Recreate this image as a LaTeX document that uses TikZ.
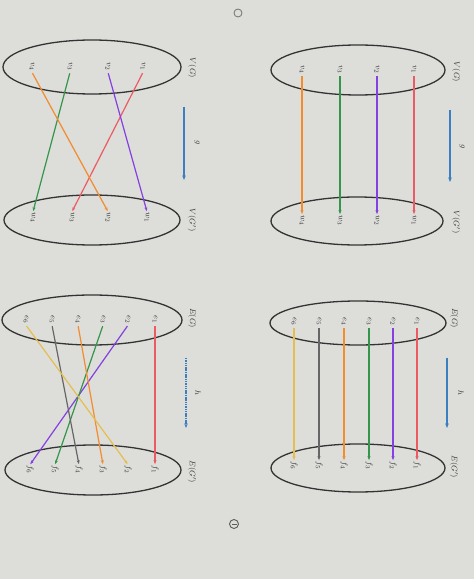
\documentclass[tikz,border=0pt]{standalone}
\usetikzlibrary{arrows.meta}
\definecolor{paper}{HTML}{DDDDDA}
\definecolor{cred}{HTML}{EC5A62}
\definecolor{cpur}{HTML}{8440E0}
\definecolor{cgrn}{HTML}{33964A}
\definecolor{cora}{HTML}{F28C2C}
\definecolor{cgry}{HTML}{666666}
\definecolor{cyel}{HTML}{E6BE50}
\definecolor{cblu}{HTML}{3A7FC0}
\definecolor{cink}{HTML}{333333}
\begin{document}
\begin{tikzpicture}[x=1pt,y=1pt,
  lbl/.style={rotate=-90,inner sep=1pt,font=\fontsize{8}{9}\selectfont,text=cink},
  setlbl/.style={rotate=-90,inner sep=1pt,font=\fontsize{8}{9}\selectfont,text=cink},
  setell/.style={draw=cink,line width=1.3pt},
  maparr/.style={line width=1.2pt,-{Stealth[length=4.5pt,width=3.5pt]}},
  edge/.style={line width=1.2pt,-{Stealth[length=4pt,width=3pt]},shorten <=1pt,shorten >=0.5pt}]
\fill[paper] (0,0) rectangle (474,579);
\useasboundingbox (0,0) rectangle (474,579);

% ---------------- top right: identity-like g ----------------
\draw[setell] (358,{579-70}) ellipse [x radius=87,y radius=25];
\draw[setell] (357,{579-221}) ellipse [x radius=86,y radius=24];
\node[lbl] (rv1) at (414,{579-70}) {$v_1$};
\node[lbl] (rv2) at (377,{579-70}) {$v_2$};
\node[lbl] (rv3) at (340,{579-70}) {$v_3$};
\node[lbl] (rv4) at (302,{579-70}) {$v_4$};
\node[lbl] (rw1) at (414,{579-221}) {$w_1$};
\node[lbl] (rw2) at (377,{579-221}) {$w_2$};
\node[lbl] (rw3) at (340,{579-221}) {$w_3$};
\node[lbl] (rw4) at (302,{579-221}) {$w_4$};
\draw[edge,cred] (rv1.east) -- (rw1.west);
\draw[edge,cpur] (rv2.east) -- (rw2.west);
\draw[edge,cgrn] (rv3.east) -- (rw3.west);
\draw[edge,cora] (rv4.east) -- (rw4.west);
\node[setlbl] (rVG) at (456,{579-72}) {$V(G)$};
\node[setlbl] (rVGp) at (456,{579-222}) {$V(G')$};
\coordinate (rg1) at (450,{579-110});
\coordinate (rg2) at (450,{579-182});
\draw[maparr,cblu] (rg1) -- (rg2);
\node[lbl] (rg) at (462,{579-147}) {$g$};

% ---------------- top left: crossing g ----------------
\draw[setell] (92,{579-67}) ellipse [x radius=89,y radius=27];
\draw[setell] (92,{579-220}) ellipse [x radius=88,y radius=25];
\node[lbl] (lv1) at (143,{579-67}) {$v_1$};
\node[lbl] (lv2) at (108,{579-67}) {$v_2$};
\node[lbl] (lv3) at (70,{579-67}) {$v_3$};
\node[lbl] (lv4) at (32,{579-67}) {$v_4$};
\node[lbl] (lw1) at (147,{579-218}) {$w_1$};
\node[lbl] (lw2) at (108,{579-218}) {$w_2$};
\node[lbl] (lw3) at (72,{579-218}) {$w_3$};
\node[lbl] (lw4) at (33,{579-218}) {$w_4$};
\draw[edge,cred] (lv1.east) -- (lw3.west);
\draw[edge,cpur] (lv2.east) -- (lw1.west);
\draw[edge,cgrn] (lv3.east) -- (lw4.west);
\draw[edge,cora] (lv4.east) -- (lw2.west);
\node[setlbl] (lVG) at (192,{579-68}) {$V(G)$};
\node[setlbl] (lVGp) at (192,{579-220}) {$V(G')$};
\coordinate (lg1) at (184,{579-107});
\coordinate (lg2) at (184,{579-180});
\draw[maparr,cblu] (lg1) -- (lg2);
\node[lbl] (lg) at (197,{579-143}) {$g$};

% ---------------- bottom right: identity-like h ----------------
\draw[setell] (358,{579-323}) ellipse [x radius=88,y radius=22];
\draw[setell] (358,{579-468}) ellipse [x radius=87,y radius=24];
\node[lbl] (re1) at (417,{579-322}) {$e_1$};
\node[lbl] (re2) at (393,{579-322}) {$e_2$};
\node[lbl] (re3) at (369,{579-322}) {$e_3$};
\node[lbl] (re4) at (344,{579-322}) {$e_4$};
\node[lbl] (re5) at (319,{579-322}) {$e_5$};
\node[lbl] (re6) at (294,{579-322}) {$e_6$};
\node[lbl] (rf1) at (417,{579-466}) {$f_1$};
\node[lbl] (rf2) at (393,{579-466}) {$f_2$};
\node[lbl] (rf3) at (369,{579-466}) {$f_3$};
\node[lbl] (rf4) at (344,{579-466}) {$f_4$};
\node[lbl] (rf5) at (319,{579-466}) {$f_5$};
\node[lbl] (rf6) at (294,{579-466}) {$f_6$};
\draw[edge,cred] (re1.east) -- (rf1.west);
\draw[edge,cpur] (re2.east) -- (rf2.west);
\draw[edge,cgrn] (re3.east) -- (rf3.west);
\draw[edge,cora] (re4.east) -- (rf4.west);
\draw[edge,cgry] (re5.east) -- (rf5.west);
\draw[edge,cyel] (re6.east) -- (rf6.west);
\node[setlbl] (rEG) at (454,{579-318}) {$E(G)$};
\node[setlbl] (rEGp) at (454,{579-467}) {$E(G')$};
\coordinate (rh1) at (447,{579-358});
\coordinate (rh2) at (447,{579-428});
\draw[maparr,cblu] (rh1) -- (rh2);
\node[lbl] (rh) at (461,{579-393}) {$h$};

% ---------------- bottom left: crossing h ----------------
\draw[setell] (92,{579-320}) ellipse [x radius=90,y radius=25];
\draw[setell] (93,{579-470}) ellipse [x radius=88,y radius=25];
\node[lbl] (le1) at (155,{579-320}) {$e_1$};
\node[lbl] (le2) at (128,{579-320}) {$e_2$};
\node[lbl] (le3) at (103,{579-320}) {$e_3$};
\node[lbl] (le4) at (78,{579-320}) {$e_4$};
\node[lbl] (le5) at (52,{579-320}) {$e_5$};
\node[lbl] (le6) at (26,{579-320}) {$e_6$};
\node[lbl] (lf1) at (155,{579-470}) {$f_1$};
\node[lbl] (lf2) at (128,{579-470}) {$f_2$};
\node[lbl] (lf3) at (103,{579-470}) {$f_3$};
\node[lbl] (lf4) at (79,{579-470}) {$f_4$};
\node[lbl] (lf5) at (55,{579-470}) {$f_5$};
\node[lbl] (lf6) at (30,{579-470}) {$f_6$};
\draw[edge,cred] (le1.east) -- (lf1.west);
\draw[edge,cpur] (le2.east) -- (lf6.west);
\draw[edge,cgrn] (le3.east) -- (lf5.west);
\draw[edge,cora] (le4.east) -- (lf3.west);
\draw[edge,cgry] (le5.east) -- (lf4.west);
\draw[edge,cyel] (le6.east) -- (lf2.west);
\node[setlbl] (lEG) at (192,{579-318}) {$E(G)$};
\node[setlbl] (lEGp) at (192,{579-472}) {$E(G')$};
\coordinate (lh1) at (186,{579-358});
\coordinate (lh2) at (186,{579-428});
\draw[maparr,cblu,dash pattern=on 1.5pt off 0.8pt] (lh1) -- (lh2);
\node[lbl] (lh) at (198,{579-393}) {$h$};

% ---------------- page marks ----------------
\draw[cink!70,line width=0.8pt] (238,{579-13}) circle [radius=4];
\draw[cink!80,line width=0.9pt] (234,{579-524}) circle [radius=4.5];
\coordinate (ia) at (231.5,{579-524});
\coordinate (ib) at (236.5,{579-524});
\draw[cink!80,line width=0.8pt] (ia) -- (ib);
\end{tikzpicture}
\end{document}
